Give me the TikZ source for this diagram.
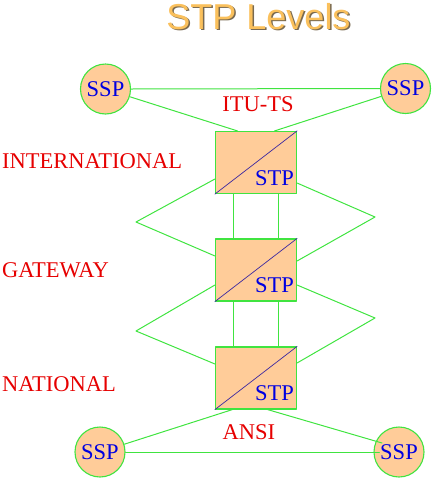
\documentclass[tikz,border=0pt]{standalone}
\usepackage{fontspec}
\setmainfont{Liberation Serif}
\newfontfamily\titlefont{Liberation Sans}
\definecolor{peach}{RGB}{255,204,153}
\definecolor{linkgreen}{RGB}{64,228,64}
\definecolor{slashblue}{RGB}{60,40,160}
\definecolor{sspblue}{RGB}{0,0,225}
\definecolor{levelred}{RGB}{230,0,0}
\definecolor{titleorange}{RGB}{250,192,92}
\definecolor{titleshade}{RGB}{120,105,80}
\begin{document}
\begin{tikzpicture}[x=1pt,y=-1pt,line cap=round,line join=round,
    link/.style={draw=linkgreen,line width=1pt},
    stpbox/.style={draw=linkgreen,line width=1.1pt,fill=peach,
      minimum width=81pt,minimum height=62pt,inner sep=0pt},
    stplabel/.style={anchor=base east,text=sspblue,inner sep=0pt,
      font=\fontsize{22.5}{26}\selectfont},
    sspnode/.style={circle,draw=linkgreen,line width=1.1pt,fill=peach,
      minimum size=50pt,inner sep=0pt,text=sspblue,
      font=\fontsize{22.5}{26}\selectfont},
    levellabel/.style={anchor=base west,text=levelred,inner sep=0pt,
      font=\fontsize{22.5}{26}\selectfont},
    netlabel/.style={anchor=base,text=levelred,inner sep=0pt,
      font=\fontsize{22.5}{26}\selectfont}]
  \useasboundingbox (0,0) rectangle (433,480);

  % title
  \node[anchor=base,text=titleshade,font=\titlefont\fontsize{36}{40}\selectfont]
    (titleshadow) at (260,30.5) {STP Levels};
  \node[anchor=base,text=titleorange,font=\titlefont\fontsize{36}{40}\selectfont]
    (title) at (258.5,29) {STP Levels};

  % level names
  \node[levellabel] (intl) at (2,168) {INTERNATIONAL};
  \node[levellabel] (gate) at (2,277) {GATEWAY};
  \node[levellabel] (natl) at (2,391) {NATIONAL};
  \node[netlabel] (itu) at (258,111) {ITU-TS};
  \node[netlabel] (ansi) at (249,439) {ANSI};

  % signal transfer points
  \node[stpbox] (stpi) at (256,162.5) {};
  \node[stpbox] (stpg) at (256,270) {};
  \node[stpbox] (stpn) at (256,378) {};
  \foreach \s in {stpi,stpg,stpn} {
    \draw[slashblue,line width=0.7pt] (\s.south west) -- (\s.north east);
    \node[stplabel] (\s-txt) at ([xshift=-3pt,yshift=9pt]\s.south east) {STP};
  }

  % signalling points
  \node[sspnode] (sspa) at (105.5,89) {SSP};
  \node[sspnode] (sspb) at (405.5,88.5) {SSP};
  \node[sspnode] (sspc) at (100,452) {SSP};
  \node[sspnode] (sspd) at (399,452) {SSP};

  % diamond corners
  \coordinate (dl1) at (136,222);
  \coordinate (dr1) at (375,217);
  \coordinate (dl2) at (136,331);
  \coordinate (dr2) at (375,318);

  % links
  \draw[link] (sspa.east) -- (sspb.west);
  \draw[link] (sspa) -- ([xshift=-18.5pt]stpi.north);
  \draw[link] (sspb) -- ([xshift=18.5pt]stpi.north);
  \draw[link] (sspc.east) -- ([xshift=6pt]sspd.west);
  \draw[link] (sspc) -- ([xshift=-23.5pt]stpn.south);
  \draw[link] ([xshift=11.5pt]stpn.south) -- ([xshift=-17pt,yshift=9pt]sspd.center);
  \foreach \u/\l in {stpi/stpg,stpg/stpn} {
    \draw[link] ([xshift=-23pt]\u.south) -- ([xshift=-23pt]\l.north);
    \draw[link] ([xshift=22.5pt]\u.south) -- ([xshift=22.5pt]\l.north);
  }
  \draw[link] ([yshift=-16.5pt]stpi.west) -- (dl1) -- ([yshift=14pt]stpg.west);
  \draw[link] ([yshift=-20.5pt]stpi.east) -- (dr1) -- ([yshift=9pt]stpg.east);
  \draw[link] ([yshift=-15pt]stpg.west) -- (dl2) -- ([yshift=14pt]stpn.west);
  \draw[link] ([yshift=-15pt]stpg.east) -- (dr2) -- ([yshift=15pt]stpn.east);
\end{tikzpicture}
\end{document}
